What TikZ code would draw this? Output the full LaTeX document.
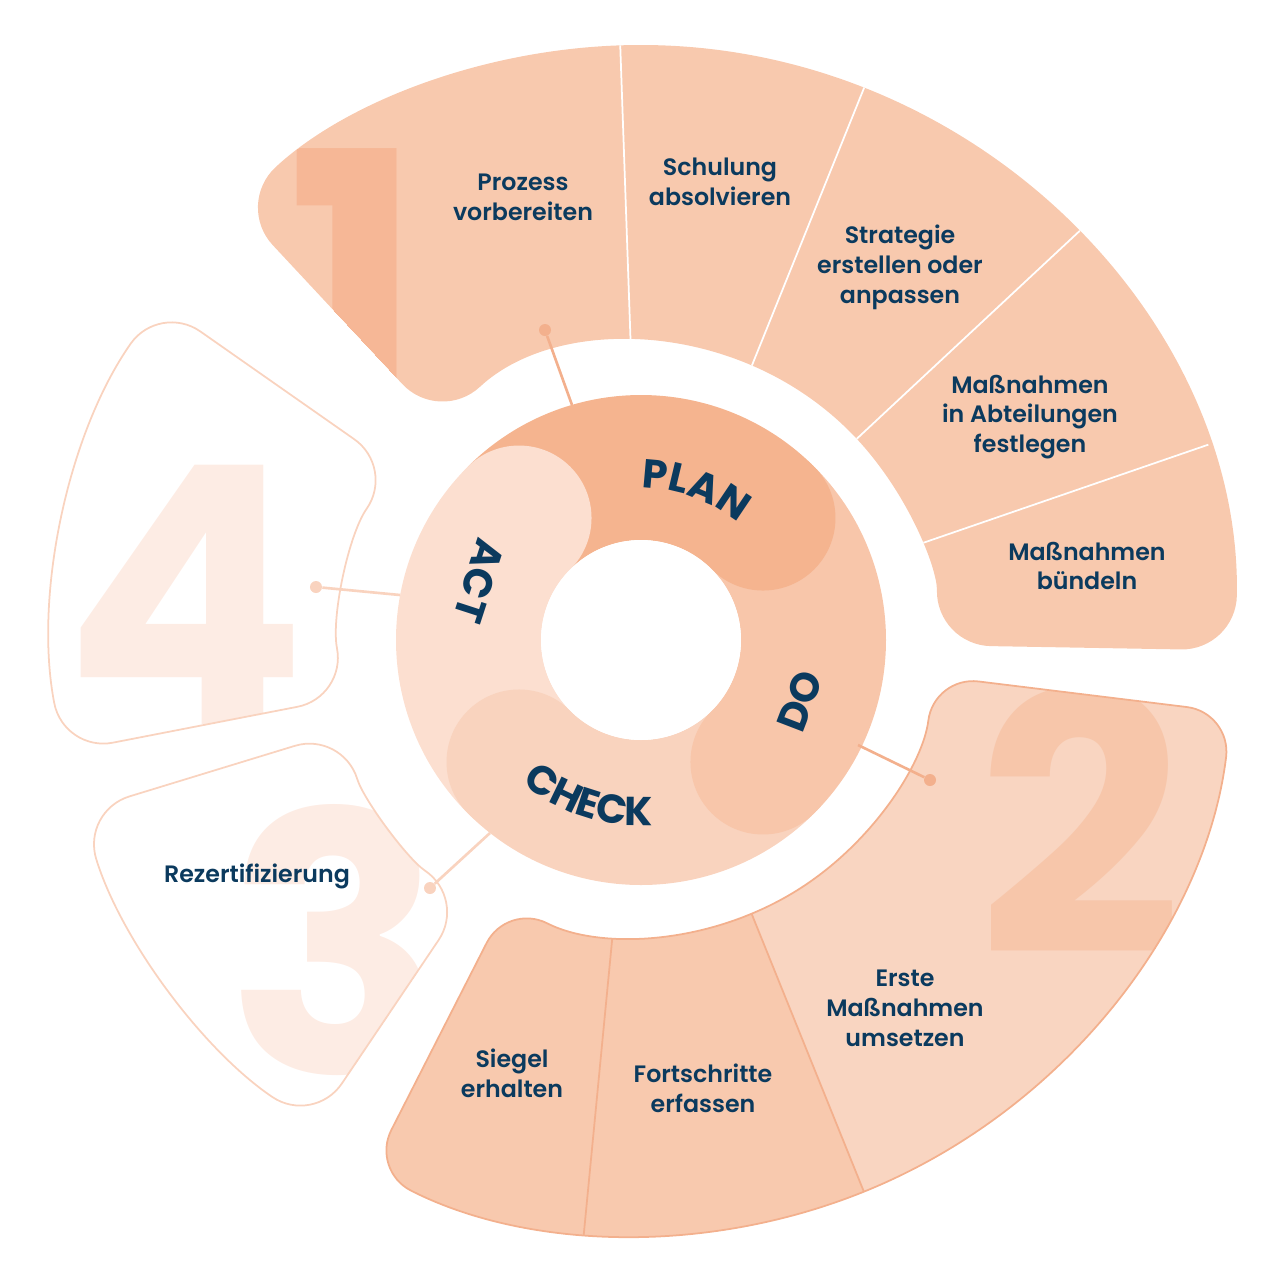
\documentclass[tikz,border=0pt]{standalone}
\usepackage{fontspec}
\setmainfont{Poppins}
\newfontfamily\pops{Poppins SemiBold}
\newfontfamily\popb{Poppins Bold}
\usetikzlibrary{decorations.text}
\definecolor{navy}{HTML}{0B3A5E}
\definecolor{sa}{HTML}{F8C9AE}
\definecolor{sb}{HTML}{F9D5C1}
\definecolor{sedge}{HTML}{F3B08D}
\definecolor{one}{HTML}{F6B796}
\definecolor{two}{HTML}{F7C6AA}
\definecolor{lite}{HTML}{F9D3BF}
\definecolor{faint}{HTML}{FDECE4}
\definecolor{cplan}{HTML}{F5B48F}
\definecolor{cdo}{HTML}{F8C6AA}
\definecolor{ccheck}{HTML}{F9D3BE}
\definecolor{cact}{HTML}{FCDFD0}
\newcommand{\sector}[4]{(#1:#3) arc[start angle=#1,end angle=#2,radius=#3] -- (#2:#4) arc[start angle=#2,end angle=#1,radius=#4] -- cycle}
\tikzset{
 lbl/.style={text=navy,font=\pops\fontsize{13.5}{17}\selectfont,align=center},
 big/.style={font=\popb\fontsize{205}{205}\selectfont,inner sep=0},
 ring/.style={text=navy,font=\popb\fontsize{23}{23}\selectfont},
 dot/.style={circle,inner sep=0,minimum size=0.24cm},
}
\begin{document}
\begin{tikzpicture}[x=0.02cm,y=0.02cm]
\useasboundingbox (-641,-639) rectangle (639,640);
% segment 1
\begin{scope}
\clip[rounded corners=1.1cm] \sector{-1}{133}{595}{295};
\fill[sa] (-700,-700) rectangle (700,700);
\node[big,text=one] at (-286,360) {1};
\foreach \a in {92,68,43,19}{\draw[white,line width=1pt] (\a:290) -- (\a:600);}
\end{scope}
% segment 2
\begin{scope}
\clip[rounded corners=0.9cm] \sector{-7}{-117}{595}{295};
\fill[sb] (-700,-700) rectangle (700,700);
\fill[sa] \sector{-68}{-120}{600}{290};
\node[big,text=two] at (439,-180) {2};
\foreach \a in {-68,-95.5}{\draw[sedge,line width=1pt] (\a:290) -- (\a:600);}
\end{scope}
\draw[sedge,line width=1pt,rounded corners=0.9cm] \sector{-7}{-117}{595}{295};
% segment 4
\begin{scope}
\clip[rounded corners=1cm] \sector{145}{191}{588}{300};
\node[big,text=faint] at (-456,45) {4};
\end{scope}
\draw[lite,line width=1pt,rounded corners=1cm] \sector{145}{191}{588}{300};
% segment 3
\begin{scope}
\clip[rounded corners=1cm] \sector{197}{236}{585}{312};
\node[big,text=faint] at (-306,-300) {3};
\end{scope}
\draw[lite,line width=1pt,rounded corners=1cm] \sector{197}{236}{585}{312};
% inner ring
\fill[cplan] \sector{135}{45}{245}{100};
\fill[cdo] \sector{45}{-45}{245}{100};
\fill[ccheck] \sector{-45}{-135}{245}{100};
\fill[cact] \sector{-135}{-225}{245}{100};
\begin{scope}
\clip (0,0) circle[radius=245];
\fill[cplan] (45:172.5) circle[radius=72.5];
\fill[cdo] (-45:172.5) circle[radius=72.5];
\fill[ccheck] (-135:172.5) circle[radius=72.5];
\fill[cact] (135:172.5) circle[radius=72.5];
\end{scope}
\fill[white] (0,0) circle[radius=100];
\path[decorate,decoration={text along path,text align=center,text={|\popb\fontsize{23}{23}\selectfont\color{navy}|PLAN}}] (115:152) arc[start angle=115,end angle=25,radius=152];
\path[decorate,decoration={text along path,text align=center,text={|\popb\fontsize{23}{23}\selectfont\color{navy}|CHECK}}] (205:186) arc[start angle=205,end angle=299,radius=186];
\node[ring,rotate=252] at (160:172) {ACT};
\node[ring,rotate=69] at (-21:170) {DO};
% labels
\node[lbl] (l1) at (-118,443) {Prozess\\vorbereiten};
\node[lbl] (l2) at (79,458) {Schulung\\absolvieren};
\node[lbl] (l3) at (259,373) {Strategie\\erstellen oder\\anpassen};
\node[lbl] (l4) at (389,223) {Maßnahmen\\in Abteilungen\\festlegen};
\node[lbl] (l5) at (446,74) {Maßnahmen\\bündeln};
\node[lbl] (l6) at (264,-368) {Erste\\Maßnahmen\\umsetzen};
\node[lbl] (l7) at (-129,-433) {Siegel\\erhalten};
\node[lbl] (l8) at (62,-448) {Fortschritte\\erfassen};
\node[lbl] (l9) at (-384,-236) {Rezertifizierung};
% connectors
\node[dot,fill=sedge] (d1) at (-96,310) {};
\coordinate (e1) at (-69,235);
\draw[sedge,line width=1.5pt] (d1) -- (e1);
\node[dot,fill=sedge] (d2) at (289,-140) {};
\coordinate (e2) at (217,-105);
\draw[sedge,line width=1.5pt] (d2) -- (e2);
\node[dot,fill=lite] (d3) at (-211,-248) {};
\coordinate (e3) at (-151,-193);
\draw[lite,line width=1.5pt] (d3) -- (e3);
\node[dot,fill=lite] (d4) at (-325,53) {};
\coordinate (e4) at (-241,45);
\draw[lite,line width=1.5pt] (d4) -- (e4);
\end{tikzpicture}
\end{document}
